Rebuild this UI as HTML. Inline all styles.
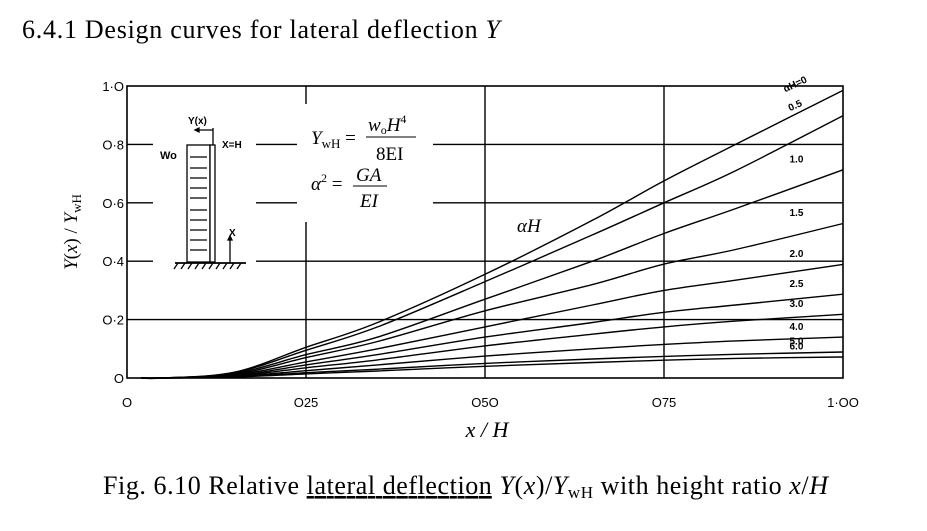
<!DOCTYPE html>
<html><head><meta charset="utf-8"><style>
html,body{margin:0;padding:0;background:#fff;width:927px;height:531px;overflow:hidden}
.serif{font-family:"Liberation Serif",serif}
.sans{font-family:"Liberation Sans",sans-serif}
</style></head><body>
<svg id="chart" width="927" height="531" viewBox="0 0 927 531">
<text class="serif" x="22" y="38" font-size="26" textLength="478">6.4.1  Design curves for lateral deflection <tspan font-style="italic">Y</tspan></text>
<g id="grid"></g>
<g id="curves"></g>
<g id="ticks"></g>
<g stroke="#000" fill="none" stroke-width="1.3">
<rect x="187" y="145" width="23" height="117" fill="#fff"/>
<rect x="210" y="145" width="5" height="117" fill="#fff"/>
<line x1="175" y1="263" x2="246" y2="263" stroke-width="1.8"/>
<path d="M178 263l-4 6M185 263l-4 6M192 263l-4 6M199 263l-4 6M206 263l-4 6M213 263l-4 6M220 263l-4 6M227 263l-4 6M234 263l-4 6M241 263l-4 6"/>
<path d="M190 157h17M190 168h17M190 178h17M190 188h17M190 198h17M190 210h17M190 220h17M190 230h17M190 240h17M190 250h17"/>
<line x1="213" y1="145" x2="213" y2="128"/><line x1="213" y1="130" x2="195" y2="130"/>
<path d="M195 130l4-2v4z" fill="#000"/>
<line x1="230" y1="263" x2="230" y2="238"/><path d="M230 236l-2 4h4z" fill="#000"/>
</g>
<g class="sans" font-size="10" font-weight="bold">
<text x="188" y="124">Y(x)</text>
<text x="222" y="148">X=H</text>
<text x="160" y="159" font-size="11">Wo</text>
<text x="229" y="236">X</text>
</g>
<g class="serif" font-size="19">
<text x="311" y="144" font-style="italic">Y<tspan font-style="normal" font-size="13" dy="4">wH</tspan><tspan font-style="normal" dy="-4"> =</tspan></text>
<text x="368" y="131" font-style="italic">w<tspan font-style="normal" font-size="12" dy="3">o</tspan><tspan dy="-3">H</tspan><tspan font-style="normal" font-size="12" dy="-8">4</tspan></text>
<line x1="366" y1="137" x2="416" y2="137" stroke="#000" stroke-width="1"/>
<text x="376" y="160">8EI</text>
<text x="311" y="190" font-style="italic">α<tspan font-style="normal" font-size="12" dy="-8">2</tspan><tspan font-style="normal" dy="8"> =</tspan></text>
<text x="356" y="181" font-style="italic">GA</text>
<line x1="353" y1="186" x2="387" y2="186" stroke="#000" stroke-width="1"/>
<text x="360" y="207" font-style="italic">EI</text>
</g>
<text class="serif" x="517" y="232" font-size="19" font-style="italic">αH</text>
<text class="serif" transform="translate(77,232) rotate(-90)" text-anchor="middle" font-size="19"><tspan font-style="italic">Y</tspan>(<tspan font-style="italic">x</tspan>) / <tspan font-style="italic">Y</tspan><tspan font-size="13" dy="4">wH</tspan></text>
<text class="serif" x="487" y="437" text-anchor="middle" font-size="22" font-style="italic">x / H</text>
<text class="serif" x="103" y="494" font-size="26" textLength="725">Fig. 6.10 Relative <tspan text-decoration="underline">lateral deflection</tspan> <tspan font-style="italic">Y</tspan>(<tspan font-style="italic">x</tspan>)/<tspan font-style="italic">Y</tspan><tspan font-size="17" dy="4">wH</tspan><tspan dy="-4"> with height ratio </tspan><tspan font-style="italic">x</tspan>/<tspan font-style="italic">H</tspan></text>
</svg>
<script>
const xSamples=[0.05,0.15,0.25,0.35,0.5,0.65,0.75,0.85,1.0];
const seriesNames=["αH=0","0.5","1.0","1.5","2.0","2.5","3.0","4.0","5.0","6.0"];
const s0=[0,0.02,0.105,0.19,0.355,0.54,0.675,0.8,0.985];
const s05=[0,0.018,0.095,0.175,0.33,0.49,0.6,0.71,0.898];
const s10=[0,0.015,0.08,0.14,0.27,0.4,0.495,0.58,0.713];
const s15=[0,0.012,0.07,0.125,0.23,0.32,0.39,0.44,0.529];
const s20=[0,0.01,0.055,0.1,0.175,0.25,0.3,0.335,0.389];
const s25=[0,0.008,0.045,0.08,0.14,0.19,0.225,0.25,0.287];
const s30=[0,0.007,0.035,0.062,0.11,0.15,0.175,0.195,0.218];
const s40=[0,0.005,0.025,0.045,0.075,0.1,0.115,0.127,0.14];
const s50=[0,0.004,0.018,0.03,0.05,0.065,0.074,0.081,0.089];
const s60=[0,0.003,0.014,0.024,0.04,0.053,0.061,0.067,0.072];
const allSeries=[s0,s05,s10,s15,s20,s25,s30,s40,s50,s60];
const xTicks=[0,0.25,0.5,0.75,1];
const xTickLabels=["O","O25","O5O","O75","1·OO"];
const yTicks=[0,0.2,0.4,0.6,0.8,1.0];
const yTickLabels=["O","O·2","O·4","O·6","O·8","1·O"];
const X0=127,X1=843,Y0=378,Y1=86;
const sx=v=>X0+v*(X1-X0), sy=v=>Y0-v*(Y0-Y1);
const NS="http://www.w3.org/2000/svg";
function mk(tag,parent,attrs){const e=document.createElementNS(NS,tag);for(const k in attrs)e.setAttribute(k,attrs[k]);parent.appendChild(e);return e;}
const grid=document.getElementById('grid'),curves=document.getElementById('curves'),ticks=document.getElementById('ticks');
let fr=mk('rect',grid,{x:X0,y:Y1,width:X1-X0,height:Y0-Y1,fill:'none',stroke:'#000','stroke-width':1.6});


xTicks.slice(1,4).forEach(v=>{const l=mk('line',grid,{x1:sx(v),x2:sx(v),y1:Y1,y2:Y0,stroke:'#000','stroke-width':1.4});

});
yTicks.slice(1,5).forEach(v=>{const l=mk('line',grid,{x1:X0,x2:X1,y1:sy(v),y2:sy(v),stroke:'#000','stroke-width':1.4});

});
mk('rect',grid,{x:153,y:105,width:103,height:157,fill:'#fff'});
mk('rect',grid,{x:297,y:104,width:136,height:118,fill:'#fff'});
const pts=s=>{let p=[[sx(0.02),sy(0)]];xSamples.forEach((x,i)=>p.push([sx(x),sy(s[i])]));return p;};
function smooth(p){let d='M'+p[0][0].toFixed(1)+' '+p[0][1].toFixed(1);for(let i=0;i<p.length-1;i++){const a=p[Math.max(0,i-1)],b=p[i],c=p[i+1],e=p[Math.min(p.length-1,i+2)];const c1=[b[0]+(c[0]-a[0])/6,b[1]+(c[1]-a[1])/6],c2=[c[0]-(e[0]-b[0])/6,c[1]-(e[1]-b[1])/6];d+=` C${c1[0].toFixed(1)} ${c1[1].toFixed(1)} ${c2[0].toFixed(1)} ${c2[1].toFixed(1)} ${c[0].toFixed(1)} ${c[1].toFixed(1)}`;}return d;}
allSeries.forEach((s,i)=>{const p=mk('path',curves,{d:smooth(pts(s)),fill:'none',stroke:'#000','stroke-width':1.4});


const last=s[s.length-1];
const lx=sx(0.935), ly=sy(last+0.025)+(i==0?4:0);
const t=mk('text',curves,{x:lx,y:ly,'font-size':10,'font-weight':'bold','class':'sans','text-anchor':'middle'});
if(i<2)t.setAttribute('transform',`rotate(-25 ${lx} ${ly})`);
t.textContent=seriesNames[i];

});
xTicks.forEach((v,i)=>{const t=mk('text',ticks,{x:sx(v),y:407,'font-size':13,'class':'sans','text-anchor':'middle'});t.textContent=xTickLabels[i];

});
yTicks.forEach((v,i)=>{const t=mk('text',ticks,{x:124,y:sy(v)+5,'font-size':13,'class':'sans','text-anchor':'end'});t.textContent=yTickLabels[i];

});
</script>
</body></html>
